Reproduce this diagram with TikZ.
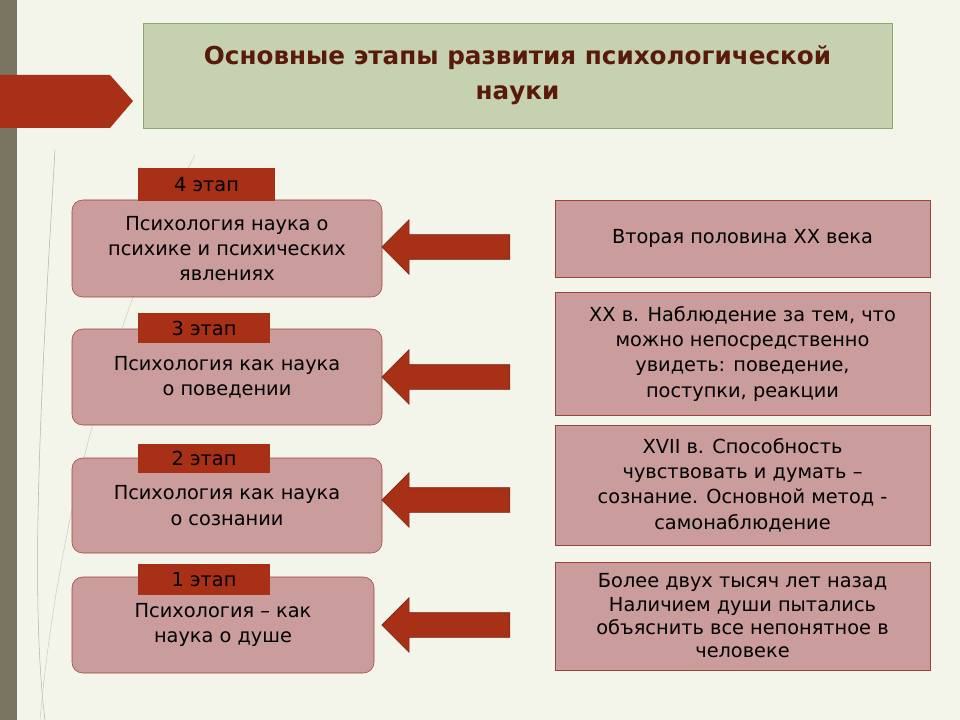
\documentclass[tikz,border=0pt]{standalone}
\usepackage{fontspec}
\setmainfont{DejaVu Sans}
\usetikzlibrary{shapes.arrows,positioning}
\definecolor{bgcol}{HTML}{F4F5EA}
\definecolor{barcol}{HTML}{7A7560}
\definecolor{redcol}{HTML}{A83016}
\definecolor{titlefill}{HTML}{C5D1B0}
\definecolor{titleline}{HTML}{8AA86A}
\definecolor{boxfill}{HTML}{CA9C9C}
\definecolor{boxline}{HTML}{A0413A}
\definecolor{titletext}{HTML}{5A1A0A}
\begin{document}
\begin{tikzpicture}[x=0.75pt, y=-0.75pt, font=\fontsize{14.5}{19}\selectfont]
  \tikzset{
    stagebox/.style={draw=boxline, fill=boxfill, rounded corners=8pt, align=center, inner sep=2pt},
    periodbox/.style={draw=boxline, fill=boxfill, align=center, inner sep=2pt},
    tagbox/.style={fill=redcol, text=black, inner sep=0pt},
    bigarrow/.style={single arrow, fill=redcol, draw=redcol!70!black, shape border rotate=180,
      minimum height=96pt, inner sep=0pt, text height=18pt, text depth=0pt, text width=0pt,
      single arrow head extend=11.25pt, single arrow head indent=0pt}
  }
  \fill[bgcol] (0,0) rectangle (960,720);
  \useasboundingbox (0,0) rectangle (960,720);
  % decoration
  \fill[barcol] (0,0) rectangle (17,720);
  \draw[gray!60, thin] (55,150) .. controls (40,400) and (30,600) .. (45,720);
  \draw[gray!40, thin] (195,155) .. controls (120,300) and (60,500) .. (40,720);
  \fill[redcol] (0,75) -- (110,75) -- (133,101) -- (110,128) -- (0,128) -- cycle;
  % title
  \node[draw=titleline, fill=titlefill, minimum width=561.75pt, minimum height=78.75pt,
    text=titletext, font=\fontsize{18.5}{26}\selectfont\bfseries, align=center]
    (title) at (517.5,75.5) {Основные этапы развития психологической\\науки};
  % stages
  \node[stagebox, minimum width=232.5pt, minimum height=72.75pt] (s4) at (227,248.5)
    {Психология наука о\\психике и психических\\явлениях};
  \node[stagebox, minimum width=232.5pt, minimum height=72pt] (s3) at (227,377)
    {Психология как наука\\о поведении};
  \node[stagebox, minimum width=232.5pt, minimum height=71.25pt] (s2) at (227,505.5)
    {Психология как наука\\о сознании};
  \node[stagebox, minimum width=226.5pt, minimum height=72pt] (s1) at (223,625)
    {Психология – как\\наука о душе};
  \node[tagbox, minimum width=102.75pt, minimum height=24.75pt] (t4) at (206.5,184.5) {4 этап};
  \node[tagbox, minimum width=99pt, minimum height=22.5pt] (t3) at (204,328) {3 этап};
  \node[tagbox, minimum width=99pt, minimum height=21.75pt] (t2) at (204,458.5) {2 этап};
  \node[tagbox, minimum width=99pt, minimum height=23.25pt] (t1) at (204,579.5) {1 этап};
  % periods
  \node[periodbox, minimum width=281.25pt, minimum height=57.75pt] (p4) at (742.5,238.5)
    {Вторая половина XX века};
  \node[periodbox, minimum width=281.25pt, minimum height=92.25pt] (p3) at (742.5,353.5)
    {XX в. Наблюдение за тем, что\\можно непосредственно\\увидеть: поведение,\\поступки, реакции};
  \node[periodbox, minimum width=281.25pt, minimum height=90pt] (p2) at (742.5,485)
    {XVII в. Способность\\чувствовать и думать –\\сознание. Основной метод -\\самонаблюдение};
  \node[periodbox, minimum width=281.25pt, minimum height=81pt, font=\fontsize{14.5}{17.5}\selectfont] (p1) at (742.5,616)
    {Более двух тысяч лет назад\\Наличием души пытались\\объяснить все непонятное в\\человеке};
  % arrows
  \foreach \n/\y in {4/247,3/377,2/500,1/625}
    \node[bigarrow] (a\n) at (452,\y) {};
\end{tikzpicture}
\end{document}
